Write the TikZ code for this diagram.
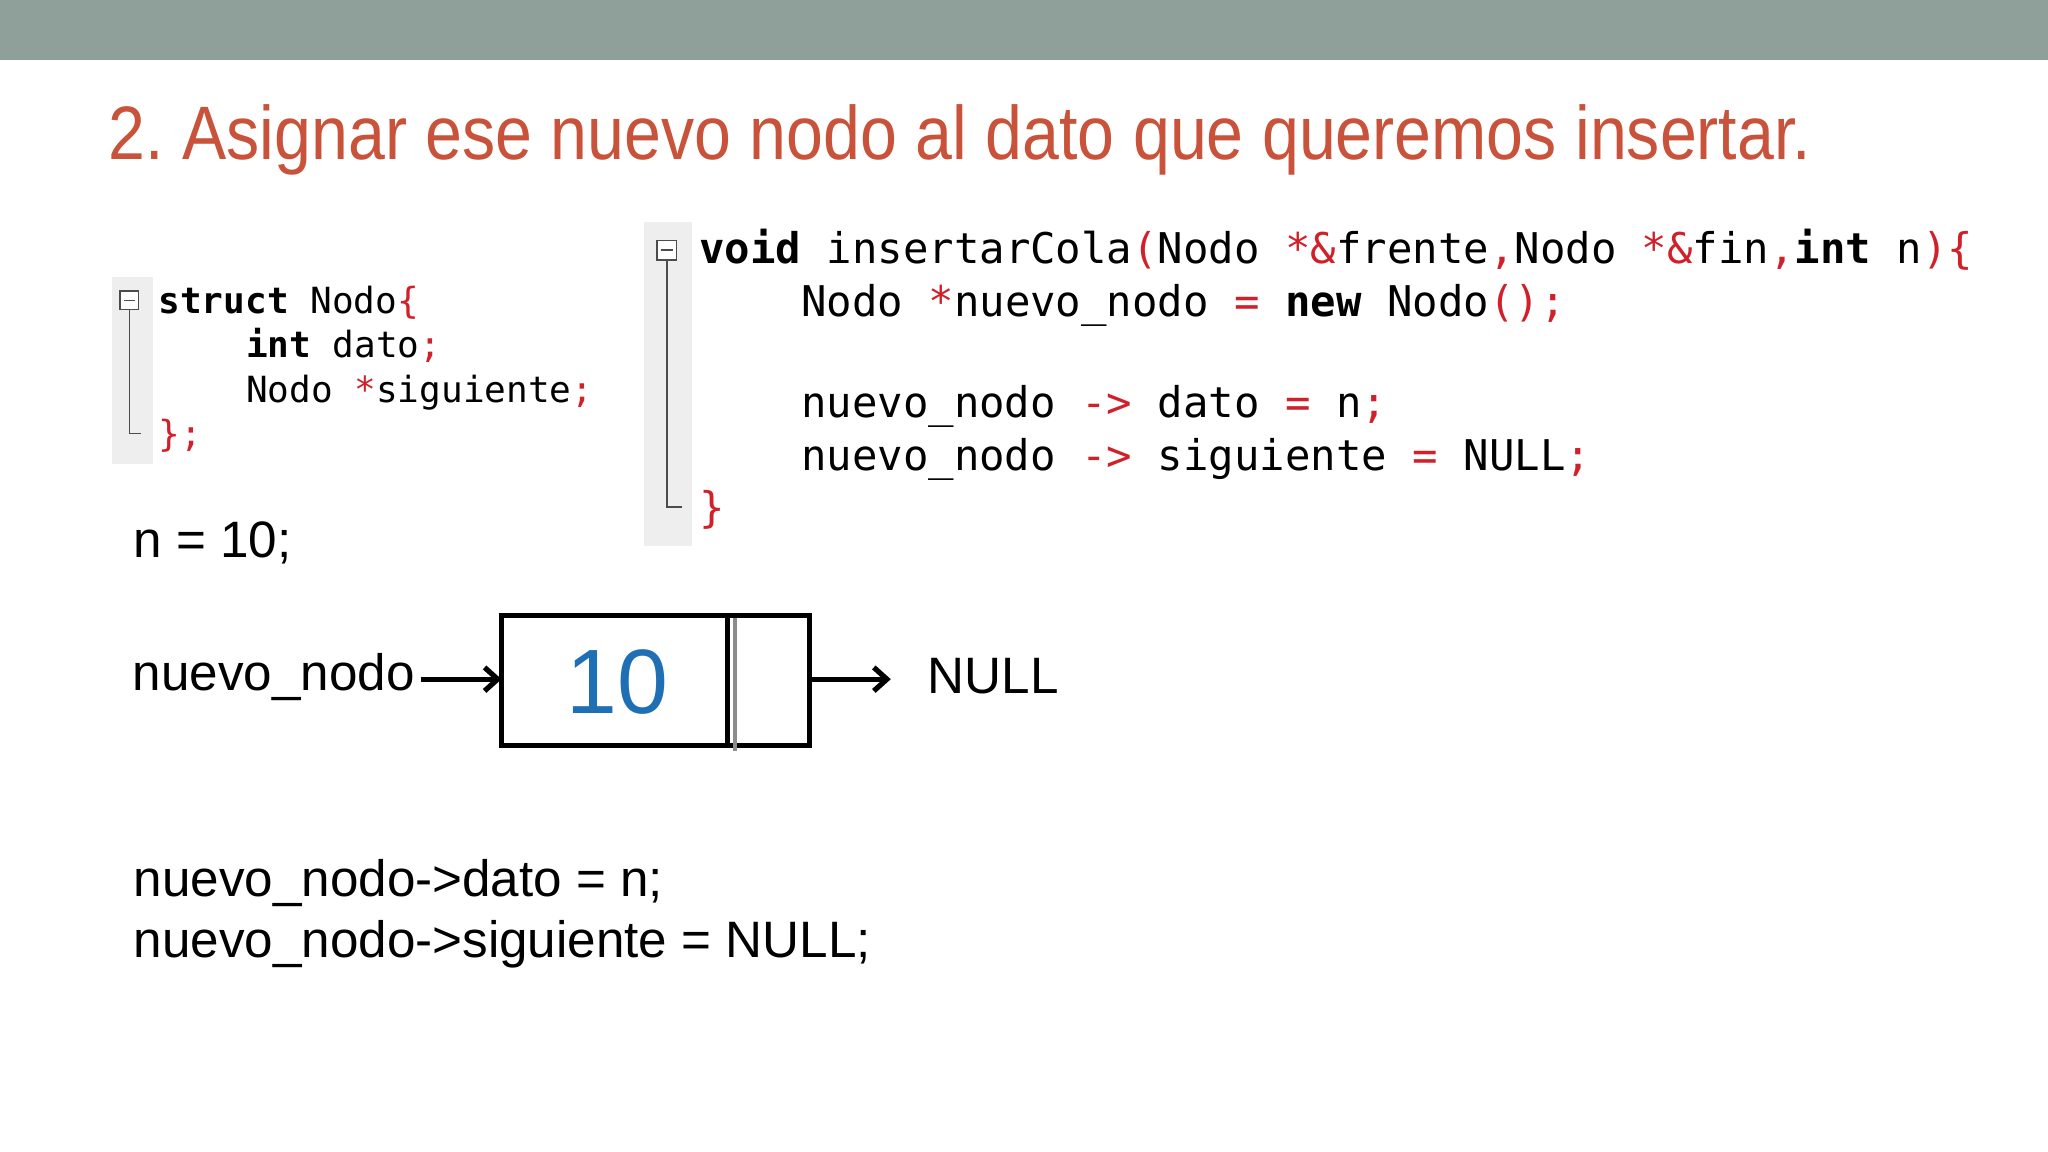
\documentclass[tikz,border=0pt]{standalone}
\usepackage{fontspec}
\setmainfont{Liberation Sans}
\newfontfamily\codefont{DejaVu Sans Mono}
\usetikzlibrary{arrows.meta}
\definecolor{band}{HTML}{8FA09A}
\definecolor{ttl}{HTML}{C9523A}
\definecolor{pnc}{HTML}{D0202A}
\definecolor{numb}{HTML}{1F6FB5}
\definecolor{strip}{HTML}{EEEEEE}
\newcommand{\p}[1]{\textcolor{pnc}{#1}}
\frenchspacing
\begin{document}
\begin{tikzpicture}[x=0.5pt,y=-0.5pt,
  txt/.style={anchor=base west,inner sep=0pt,font=\fontsize{19.6pt}{23pt}\selectfont},
  codeA/.style={anchor=base west,inner sep=0pt,font=\codefont\fontsize{13.8pt}{17pt}\selectfont},
  codeB/.style={anchor=base west,inner sep=0pt,font=\codefont\fontsize{16.2pt}{20pt}\selectfont},
  fold/.style={draw=black!70,line width=0.6pt},
  arr/.style={-{Straight Barb[length=5pt,width=9pt]},line width=2pt}]
\useasboundingbox (0,0) rectangle (1568,882);
\fill[white] (0,0) rectangle (1568,882);
\fill[band] (0,0) rectangle (1568,46);
\node[anchor=base west,inner sep=0pt,text=ttl,font=\fontsize{29pt}{34pt}\selectfont] (title) at (83,122) {\scalebox{0.875}[1]{2. Asignar ese nuevo nodo al dato que queremos insertar.}};
% left code
\fill[strip] (86,212) rectangle (117,355);
\draw[fold,fill=white] (92,223) rectangle (106,237);
\draw[fold] (95,230) -- (103,230);
\draw[fold] (99,237) -- (99,332) -- (108,332);
\node[codeA] (a1) at (121,240) {\textbf{struct} Nodo\p{\{}};
\node[codeA] (a2) at (188,274) {\textbf{int} dato\p{;}};
\node[codeA] (a3) at (188,308) {Nodo \p{*}siguiente\p{;}};
\node[codeA] (a4) at (121,342) {\p{\};}};
% right code
\fill[strip] (493,170) rectangle (530,418);
\draw[fold,fill=white] (503,184) rectangle (518,199);
\draw[fold] (506,191.5) -- (515,191.5);
\draw[fold] (510.5,199) -- (510.5,388) -- (522,388);
\node[codeB] (b1) at (535,202) {\textbf{void} insertarCola\p{(}Nodo \p{*\&}frente\p{,}Nodo \p{*\&}fin\p{,}\textbf{int} n\p{)\{}};
\node[codeB] (b2) at (613,242) {Nodo \p{*}nuevo\_nodo \p{=} \textbf{new} Nodo\p{();}};
\node[codeB] (b3) at (613,320) {nuevo\_nodo \p{->} dato \p{=} n\p{;}};
\node[codeB] (b4) at (613,360) {nuevo\_nodo \p{->} siguiente \p{=} NULL\p{;}};
\node[codeB] (b5) at (535,400) {\p{\}}};
% body text
\node[txt] (n) at (102,427) {n = 10;};
\node[txt,anchor=east] (lbl) at (318,518) {nuevo\_nodo};
\draw[line width=2pt] (384,471) rectangle (620,571);
\draw[line width=2pt] (557,471) -- (557,571);
\draw[line width=1.5pt,black!45] (563,473) -- (563,575);
\node[font=\fontsize{35pt}{40pt}\selectfont,text=numb] (ten) at (473,522) {10};
\coordinate (boxl) at (384,520);
\coordinate (boxr) at (620,520);
\draw[arr] (lbl.east) ++(4,2) -- (boxl);
\node[txt,anchor=west] (null) at (710,518) {NULL};
\draw[arr] (boxr) -- (682,520);
\node[txt] (l1) at (102,686) {nuevo\_nodo->dato = n;};
\node[txt] (l2) at (102,733) {nuevo\_nodo->siguiente = NULL;};
\end{tikzpicture}
\end{document}
